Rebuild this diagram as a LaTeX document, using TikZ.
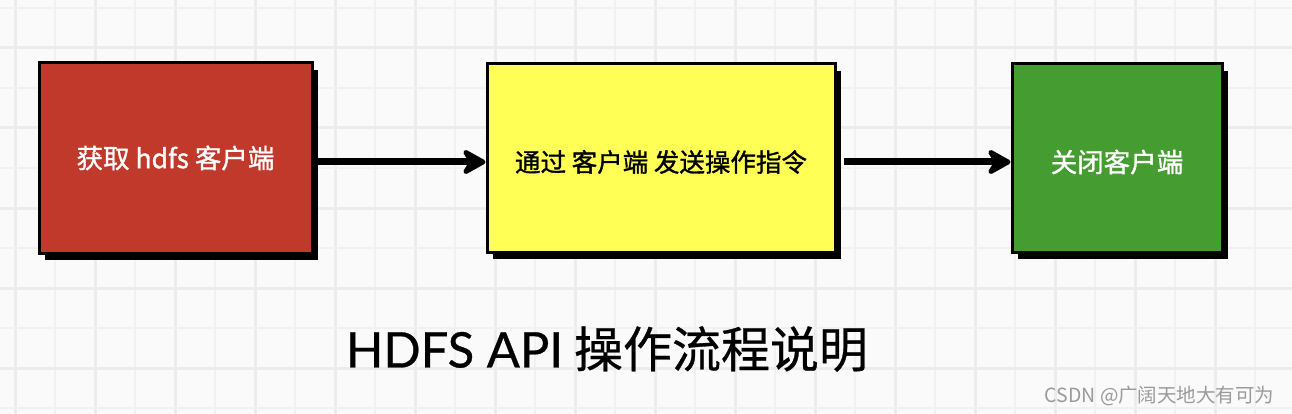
\documentclass[tikz,border=0pt]{standalone}
\usepackage{fontspec}
\setmainfont{Noto Sans CJK SC}
\newfontfamily\boxfont[FakeBold=1.2]{Noto Sans CJK SC}
\newfontfamily\titlefont[FakeBold=0.6]{Lato}
\newfontfamily\titlecjk[FakeBold=0.6]{Noto Sans CJK SC}
\usetikzlibrary{arrows.meta,shadows}
\definecolor{bgc}{HTML}{FAFAFA}
\definecolor{gridthin}{HTML}{F1F1F1}
\definecolor{gridthick}{HTML}{ECECEC}
\definecolor{boxred}{HTML}{C0392B}
\definecolor{boxyellow}{HTML}{FFFF55}
\definecolor{boxgreen}{HTML}{459C30}
\definecolor{wmgray}{HTML}{9A9A9A}
\begin{document}
\begin{tikzpicture}[x=1pt,y=-1pt,
  stepbox/.style={draw=black, line width=3pt, rectangle, inner sep=0pt,
    drop shadow={shadow xshift=6pt, shadow yshift=-7pt, fill=black, opacity=1}},
  arr/.style={line width=7pt, -{Stealth[length=29pt,width=32pt,inset=10pt,round]}},
  boxtext/.style={font=\boxfont\fontsize{26.5}{30}\selectfont}]
\fill[bgc] (0,0) rectangle (1292,414);
\useasboundingbox (0,0) rectangle (1292,414);
% grid
\foreach \k in {0,...,32} {
  \pgfmathtruncatemacro{\ev}{mod(\k,2)}
  \ifnum\ev=0
    \draw[gridthick, line width=3pt] (15+40*\k,0) -- (15+40*\k,414);
  \else
    \draw[gridthin, line width=1.5pt] (15+40*\k,0) -- (15+40*\k,414);
  \fi
}
\foreach \j in {0,...,10} {
  \pgfmathtruncatemacro{\ev}{mod(\j,2)}
  \ifnum\ev=1
    \draw[gridthick, line width=3pt] (0,8+40*\j) -- (1292,8+40*\j);
  \else
    \draw[gridthin, line width=1.5pt] (0,8+40*\j) -- (1292,8+40*\j);
  \fi
}
% boxes
\node[stepbox, fill=boxred, minimum width=273pt, minimum height=190pt] (get) at (175.5,158) {};
\node[stepbox, fill=boxyellow, minimum width=348pt, minimum height=188pt] (send) at (661,158) {};
\node[stepbox, fill=boxgreen, minimum width=210pt, minimum height=188pt] (close) at (1117,158) {};
% texts
\node[boxtext, text=white] (gett) at (175.5,158) {获取 hdfs 客户端};
\node[boxtext, text=black, font=\boxfont\fontsize{25.5}{30}\selectfont] (sendt) at (661,162) {通过 客户端 发送操作指令};
\node[boxtext, text=white] (closet) at (1117,162) {关闭客户端};
% arrows
\draw[arr] ([yshift=-4pt]get.east) -- ([yshift=-4pt]send.west);
\draw[arr] ([yshift=-4pt,xshift=7pt]send.east) -- ([yshift=-4pt]close.west);
% title
\node[font=\titlecjk\fontsize{49}{54}\selectfont, text=black] (title) at (607,349) {{\titlefont HDFS API} 操作流程说明};
% watermark
\node[anchor=east, font=\fontsize{19.5}{22}\selectfont, text=wmgray] (wm) at (1278,396) {CSDN @广阔天地大有可为};
\end{tikzpicture}
\end{document}
